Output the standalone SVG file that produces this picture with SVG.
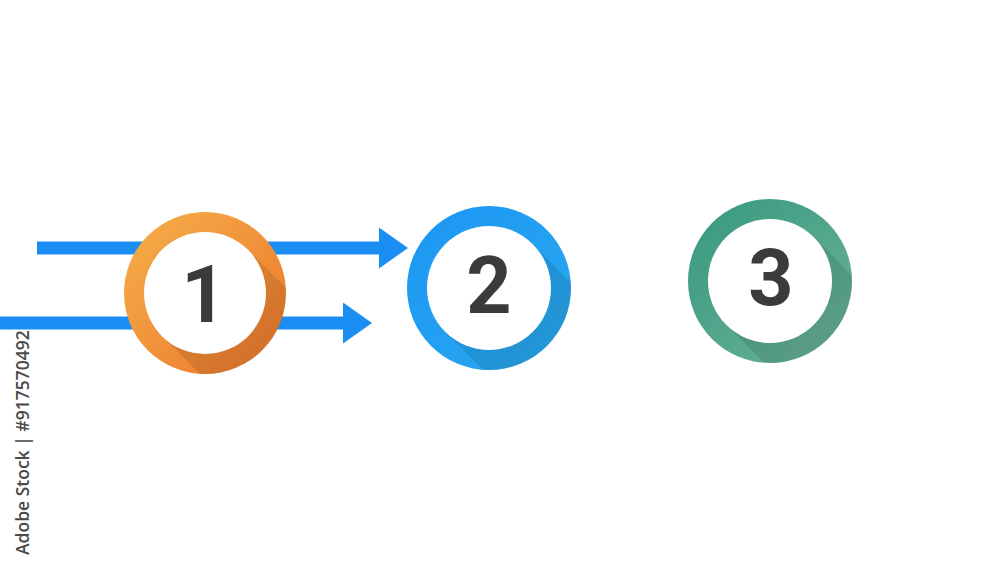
<svg xmlns="http://www.w3.org/2000/svg" width="1000" height="562" viewBox="0 0 1000 562">
<style>
.num{font-family:Roboto,"Liberation Sans",sans-serif;font-weight:700;font-size:79px;fill:#3b3b3b;text-anchor:middle}
.conn{stroke:#1A8EF2;stroke-width:13;fill:none}
.shadow{fill:#000;opacity:0.1}
.inner{fill:#fff}
.wm{font-family:"Open Sans","Noto Sans",sans-serif;font-size:17.5px;font-weight:600;fill:#4a4a4a}
</style>
<defs>
<marker id="ah" markerUnits="userSpaceOnUse" viewBox="0 0 29 41" markerWidth="29" markerHeight="41" refX="0" refY="20.5" orient="auto">
<path d="M0,0 L29,20.5 L0,41 Z" fill="#1A8EF2"/>
</marker>
<linearGradient id="gO" x1="0" y1="0" x2="1" y2="1">
<stop offset="0" stop-color="#F6B04A"/>
<stop offset="1" stop-color="#EC752A"/>
</linearGradient>
<linearGradient id="gB" x1="0" y1="0" x2="1" y2="1">
<stop offset="0" stop-color="#1B96F4"/>
<stop offset="1" stop-color="#2AAAEE"/>
</linearGradient>
<linearGradient id="gG" x1="0" y1="0" x2="1" y2="1">
<stop offset="0" stop-color="#36987F"/>
<stop offset="1" stop-color="#6DB398"/>
</linearGradient>
<clipPath id="c1"><circle cx="205" cy="293" r="81"/></clipPath>
<clipPath id="c2"><circle cx="489" cy="288" r="82"/></clipPath>
<clipPath id="c3"><circle cx="770" cy="281" r="82"/></clipPath>
</defs>
<rect width="1000" height="562" fill="#fff"/>
<g id="connectors">
<path class="conn" d="M37,248 H379" marker-end="url(#ah)"/>
<path class="conn" d="M0,323 H343" marker-end="url(#ah)"/>
</g>
<g id="node1">
<circle cx="205" cy="293" r="81" fill="url(#gO)"/>
<path class="shadow" clip-path="url(#c1)" d="M248.1,249.9 L398.1,399.9 L311.9,486.1 L161.9,336.1 Z"/>
<circle class="inner" cx="205" cy="293" r="61"/>
<text class="num" x="204" y="322">1</text>
</g>
<g id="node2">
<circle cx="489" cy="288" r="82" fill="url(#gB)"/>
<path class="shadow" clip-path="url(#c2)" d="M532.8,244.2 L682.8,394.2 L595.2,481.8 L445.2,331.8 Z"/>
<circle class="inner" cx="489" cy="288" r="62"/>
<text class="num" x="489" y="313">2</text>
</g>
<g id="node3">
<circle cx="770" cy="281" r="82" fill="url(#gG)"/>
<path class="shadow" clip-path="url(#c3)" d="M813.8,237.2 L963.8,387.2 L876.2,474.8 L726.2,324.8 Z"/>
<circle class="inner" cx="770" cy="281" r="62"/>
<text class="num" x="771" y="305">3</text>
</g>
<text class="wm" transform="translate(29,555) rotate(-90)">Adobe Stock | #917570492</text>
</svg>
